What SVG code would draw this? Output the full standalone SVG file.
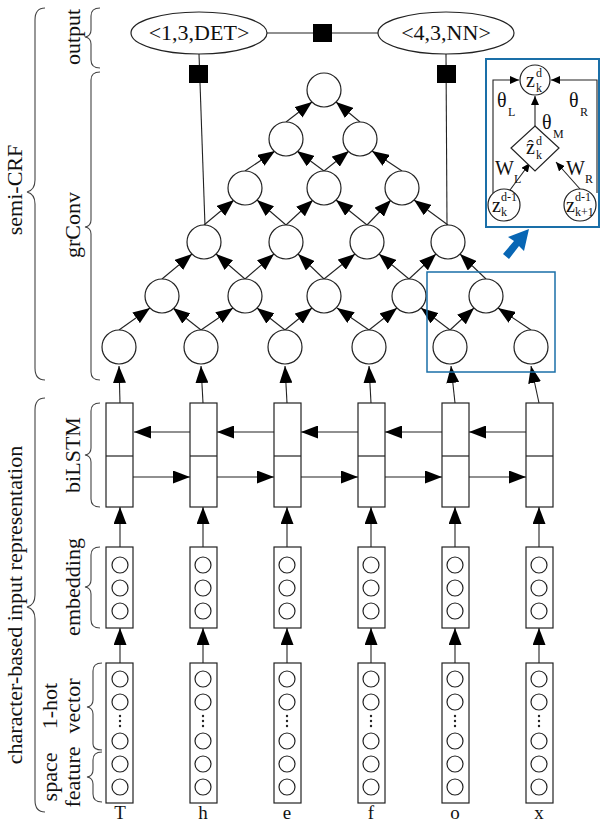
<svg xmlns="http://www.w3.org/2000/svg" width="605" height="825" viewBox="0 0 605 825">
<defs>
<marker id="a" viewBox="0 0 10 10" refX="10" refY="5" markerWidth="9" markerHeight="8" markerUnits="userSpaceOnUse" orient="auto" preserveAspectRatio="none"><path d="M0,0L10,5L0,10z" fill="#000"/></marker>
<marker id="b" viewBox="0 0 10 10" refX="10" refY="5" markerWidth="17" markerHeight="13" markerUnits="userSpaceOnUse" orient="auto" preserveAspectRatio="none"><path d="M0,0L10,5L0,10z" fill="#000"/></marker>
</defs>
<style>
.n{fill:#fff;stroke:#222;stroke-width:1.2}
.l{stroke:#222;stroke-width:1.1;fill:none}
.br{stroke:#444;stroke-width:1.1;fill:none}
text{font-family:"Liberation Serif",serif;fill:#111}
.t{font-size:22px}
.z{font-size:20px}
.s{font-size:12px}
</style>
<g id="labels" class="t">
<text transform="translate(22,190) rotate(-90)" text-anchor="middle">semi-CRF</text>
<text transform="translate(22,605) rotate(-90)" text-anchor="middle">character-based input representation</text>
<text transform="translate(80,37) rotate(-90)" text-anchor="middle">output</text>
<text transform="translate(80,225) rotate(-90)" text-anchor="middle">grConv</text>
<text transform="translate(80,455) rotate(-90)" text-anchor="middle">biLSTM</text>
<text transform="translate(80,587) rotate(-90)" text-anchor="middle">embedding</text>
<text transform="translate(57,706) rotate(-90)" text-anchor="middle">1-hot</text>
<text transform="translate(80,706) rotate(-90)" text-anchor="middle">vector</text>
<text transform="translate(57,777) rotate(-90)" text-anchor="middle">space</text>
<text transform="translate(80,777) rotate(-90)" text-anchor="middle">feature</text>
</g>
<g id="braces">
<path class="br" d="M45,8 Q35,8 35,20 L35,180 Q35,190 27,192 Q35,194 35,204 L35,368 Q35,380 45,380"/>
<path class="br" d="M45,398 Q35,398 35,410 L35,595 Q35,605 27,607 Q35,609 35,619 L35,800 Q35,812 45,812"/>
<path class="br" d="M100,8 Q91,8 91,16 L91,30 Q91,36 85,37 Q91,38 91,44 L91,60 Q91,68 100,68"/>
<path class="br" d="M100,72 Q91,72 91,80 L91,220 Q91,226 85,227 Q91,228 91,234 L91,372 Q91,380 100,380"/>
<path class="br" d="M100,403 Q91,403 91,411 L91,448 Q91,454 85,455 Q91,456 91,462 L91,499 Q91,507 100,507"/>
<path class="br" d="M100,547 Q91,547 91,555 L91,580 Q91,586 85,587 Q91,588 91,594 L91,620 Q91,628 100,628"/>
<path class="br" d="M102,663 Q93,663 93,671 L93,700 Q93,706 87,707 Q93,708 93,714 L93,744 Q93,750 102,750"/>
<path class="br" d="M102,752 Q93,752 93,760 L93,770 Q93,776 87,777 Q93,778 93,784 L93,794 Q93,802 102,802"/>
</g>
<g id="connectors">
<line class="l" x1="267" y1="33" x2="380" y2="33"/>
<line class="l" x1="199" y1="54" x2="205" y2="226"/>
<line class="l" x1="446" y1="54" x2="447" y2="226"/>
<g marker-end="url(#b)">
<line class="l" x1="119" y1="330" x2="150" y2="308"/><line class="l" x1="201" y1="330" x2="173" y2="308"/>
<line class="l" x1="201" y1="330" x2="233" y2="308"/><line class="l" x1="285" y1="330" x2="257" y2="308"/>
<line class="l" x1="285" y1="330" x2="312" y2="308"/><line class="l" x1="369" y1="330" x2="337" y2="308"/>
<line class="l" x1="369" y1="330" x2="397" y2="308"/><line class="l" x1="450" y1="330" x2="421" y2="308"/>
<line class="l" x1="450" y1="330" x2="474" y2="308"/><line class="l" x1="531" y1="330" x2="498" y2="308"/>
<line class="l" x1="162" y1="279" x2="192" y2="254"/><line class="l" x1="245" y1="279" x2="216" y2="254"/>
<line class="l" x1="245" y1="279" x2="274" y2="254"/><line class="l" x1="324" y1="279" x2="298" y2="254"/>
<line class="l" x1="324" y1="279" x2="355" y2="254"/><line class="l" x1="409" y1="279" x2="379" y2="254"/>
<line class="l" x1="409" y1="279" x2="436" y2="254"/><line class="l" x1="486" y1="279" x2="460" y2="254"/>
<line class="l" x1="204" y1="225" x2="234" y2="200"/><line class="l" x1="286" y1="225" x2="257" y2="200"/>
<line class="l" x1="286" y1="225" x2="313" y2="200"/><line class="l" x1="367" y1="225" x2="336" y2="200"/>
<line class="l" x1="367" y1="225" x2="391" y2="200"/><line class="l" x1="448" y1="225" x2="414" y2="200"/>
<line class="l" x1="245" y1="171" x2="275" y2="151"/><line class="l" x1="324" y1="171" x2="297" y2="151"/>
<line class="l" x1="324" y1="171" x2="349" y2="151"/><line class="l" x1="402" y1="171" x2="372" y2="151"/>
<line class="l" x1="286" y1="122" x2="312" y2="102"/><line class="l" x1="360" y1="122" x2="336" y2="102"/>
</g>
<g marker-end="url(#b)">
<line class="l" x1="120" y1="403" x2="119" y2="366"/><line class="l" x1="203" y1="403" x2="201" y2="366"/>
<line class="l" x1="287" y1="403" x2="285" y2="366"/><line class="l" x1="371" y1="403" x2="369" y2="366"/>
<line class="l" x1="455" y1="403" x2="451" y2="366"/><line class="l" x1="539" y1="403" x2="531" y2="366"/>
<line class="l" x1="120" y1="547" x2="120" y2="507"/><line class="l" x1="203" y1="547" x2="203" y2="507"/>
<line class="l" x1="287" y1="547" x2="287" y2="507"/><line class="l" x1="371" y1="547" x2="371" y2="507"/>
<line class="l" x1="455" y1="547" x2="455" y2="507"/><line class="l" x1="539" y1="547" x2="539" y2="507"/>
<line class="l" x1="120" y1="663" x2="120" y2="628"/><line class="l" x1="203" y1="663" x2="203" y2="628"/>
<line class="l" x1="287" y1="663" x2="287" y2="628"/><line class="l" x1="371" y1="663" x2="371" y2="628"/>
<line class="l" x1="455" y1="663" x2="455" y2="628"/><line class="l" x1="539" y1="663" x2="539" y2="628"/>
<line class="l" x1="190" y1="432" x2="134" y2="432"/><line class="l" x1="274" y1="432" x2="217" y2="432"/>
<line class="l" x1="358" y1="432" x2="301" y2="432"/><line class="l" x1="442" y1="432" x2="385" y2="432"/>
<line class="l" x1="526" y1="432" x2="469" y2="432"/>
<line class="l" x1="133" y1="477" x2="190" y2="477"/><line class="l" x1="216" y1="477" x2="274" y2="477"/>
<line class="l" x1="300" y1="477" x2="358" y2="477"/><line class="l" x1="384" y1="477" x2="442" y2="477"/>
<line class="l" x1="468" y1="477" x2="526" y2="477"/>
</g>
</g>
<g id="output">
<ellipse class="n" cx="199" cy="33" rx="68" ry="21"/><text class="t" x="199" y="40" text-anchor="middle">&lt;1,3,DET&gt;</text>
<ellipse class="n" cx="446" cy="33" rx="68" ry="21"/><text class="t" x="446" y="40" text-anchor="middle">&lt;4,3,NN&gt;</text>
<rect x="313" y="24" width="19" height="18" fill="#000"/>
<rect x="189" y="65" width="19" height="18" fill="#000"/>
<rect x="437" y="65" width="19" height="18" fill="#000"/>
</g>
<g id="grconv" class="n">
<circle cx="119" cy="347" r="17"/><circle cx="201" cy="347" r="17"/><circle cx="285" cy="347" r="17"/><circle cx="369" cy="347" r="17"/><circle cx="450" cy="347" r="17"/><circle cx="531" cy="347" r="17"/>
<circle cx="162" cy="296" r="17"/><circle cx="245" cy="296" r="17"/><circle cx="324" cy="296" r="17"/><circle cx="409" cy="296" r="17"/><circle cx="486" cy="296" r="17"/>
<circle cx="204" cy="242" r="17"/><circle cx="286" cy="242" r="17"/><circle cx="367" cy="242" r="17"/><circle cx="448" cy="242" r="17"/>
<circle cx="245" cy="188" r="17"/><circle cx="324" cy="188" r="17"/><circle cx="402" cy="188" r="17"/>
<circle cx="286" cy="139" r="17"/><circle cx="360" cy="139" r="17"/>
<circle cx="324" cy="90" r="17"/>
</g>
<g id="highlight">
<rect x="427" y="272" width="128" height="100" fill="none" stroke="#1a6fa8" stroke-width="1.5"/>
<path d="M503,254 L514,241 L508,237 L529,229 L524,251 L519,246 L509,259 Z" fill="#0866b4"/>
</g>
<g id="inset">
<rect x="486" y="59" width="113" height="168" fill="#fff" stroke="#1a6fa8" stroke-width="2"/>
<g marker-end="url(#a)">
<path class="l" d="M493,193 L493,80 L519,80"/>
<path class="l" d="M597,193 L597,80 L551,80"/>
<line class="l" x1="535" y1="126" x2="535" y2="96"/>
<line class="l" x1="510" y1="190" x2="530" y2="163"/>
<line class="l" x1="580" y1="189" x2="556" y2="162"/>
</g>
<circle class="n" cx="535" cy="80" r="15"/>
<text class="z" x="526" y="87">z</text><text class="s" x="536" y="77">d</text><text class="s" x="536" y="92">k</text>
<path class="n" d="M535,126 L559,148 L535,171 L511,148 Z"/>
<text class="z" x="526" y="154">ẑ</text><text class="s" x="536" y="145">d</text><text class="s" x="536" y="159">k</text>
<circle class="n" cx="504" cy="205" r="16"/>
<text class="z" x="492" y="212">z</text><text class="s" x="501" y="201">d-1</text><text class="s" x="501" y="216">k</text>
<circle class="n" cx="580" cy="205" r="16"/>
<text class="z" x="566" y="212">z</text><text class="s" x="575" y="201">d-1</text><text class="s" x="575" y="216">k+1</text>
<text class="z" x="497" y="107">θ</text><text class="s" x="508" y="116">L</text>
<text class="z" x="569" y="107">θ</text><text class="s" x="580" y="116">R</text>
<text class="z" x="542" y="129">θ</text><text class="s" x="553" y="138">M</text>
<text class="z" x="495" y="175">W</text><text class="s" x="514" y="183">L</text>
<text class="z" x="566" y="175">W</text><text class="s" x="585" y="183">R</text>
</g>
<g id="bilstm" class="n">
<rect x="106" y="403" width="27" height="104"/><line x1="106" y1="456" x2="133" y2="456"/>
<rect x="190" y="403" width="27" height="104"/><line x1="190" y1="456" x2="217" y2="456"/>
<rect x="274" y="403" width="27" height="104"/><line x1="274" y1="456" x2="301" y2="456"/>
<rect x="358" y="403" width="27" height="104"/><line x1="358" y1="456" x2="385" y2="456"/>
<rect x="442" y="403" width="27" height="104"/><line x1="442" y1="456" x2="469" y2="456"/>
<rect x="526" y="403" width="27" height="104"/><line x1="526" y1="456" x2="553" y2="456"/>
</g>
<g id="embedding" class="n">
<rect x="106" y="547" width="27" height="81"/><circle cx="120" cy="565" r="8"/><circle cx="120" cy="588" r="8"/><circle cx="120" cy="611" r="8"/>
<rect x="190" y="547" width="27" height="81"/><circle cx="203" cy="565" r="8"/><circle cx="203" cy="588" r="8"/><circle cx="203" cy="611" r="8"/>
<rect x="274" y="547" width="27" height="81"/><circle cx="287" cy="565" r="8"/><circle cx="287" cy="588" r="8"/><circle cx="287" cy="611" r="8"/>
<rect x="358" y="547" width="27" height="81"/><circle cx="371" cy="565" r="8"/><circle cx="371" cy="588" r="8"/><circle cx="371" cy="611" r="8"/>
<rect x="442" y="547" width="27" height="81"/><circle cx="455" cy="565" r="8"/><circle cx="455" cy="588" r="8"/><circle cx="455" cy="611" r="8"/>
<rect x="526" y="547" width="27" height="81"/><circle cx="539" cy="565" r="8"/><circle cx="539" cy="588" r="8"/><circle cx="539" cy="611" r="8"/>
</g>
<g id="input">
<g class="n">
<rect x="106" y="663" width="27" height="140"/><rect x="190" y="663" width="27" height="140"/><rect x="274" y="663" width="27" height="140"/><rect x="358" y="663" width="27" height="140"/><rect x="442" y="663" width="27" height="140"/><rect x="526" y="663" width="27" height="140"/>
</g>
<g class="n">
<circle cx="120" cy="679" r="8"/><circle cx="120" cy="702" r="8"/><circle cx="120" cy="741" r="8"/><circle cx="120" cy="764" r="8"/><circle cx="120" cy="787" r="8"/>
<circle cx="203" cy="679" r="8"/><circle cx="203" cy="702" r="8"/><circle cx="203" cy="741" r="8"/><circle cx="203" cy="764" r="8"/><circle cx="203" cy="787" r="8"/>
<circle cx="287" cy="679" r="8"/><circle cx="287" cy="702" r="8"/><circle cx="287" cy="741" r="8"/><circle cx="287" cy="764" r="8"/><circle cx="287" cy="787" r="8"/>
<circle cx="371" cy="679" r="8"/><circle cx="371" cy="702" r="8"/><circle cx="371" cy="741" r="8"/><circle cx="371" cy="764" r="8"/><circle cx="371" cy="787" r="8"/>
<circle cx="455" cy="679" r="8"/><circle cx="455" cy="702" r="8"/><circle cx="455" cy="741" r="8"/><circle cx="455" cy="764" r="8"/><circle cx="455" cy="787" r="8"/>
<circle cx="539" cy="679" r="8"/><circle cx="539" cy="702" r="8"/><circle cx="539" cy="741" r="8"/><circle cx="539" cy="764" r="8"/><circle cx="539" cy="787" r="8"/>
</g>
<g fill="#222">
<circle cx="120" cy="716" r="1.2"/><circle cx="120" cy="721" r="1.2"/><circle cx="120" cy="726" r="1.2"/>
<circle cx="203" cy="716" r="1.2"/><circle cx="203" cy="721" r="1.2"/><circle cx="203" cy="726" r="1.2"/>
<circle cx="287" cy="716" r="1.2"/><circle cx="287" cy="721" r="1.2"/><circle cx="287" cy="726" r="1.2"/>
<circle cx="371" cy="716" r="1.2"/><circle cx="371" cy="721" r="1.2"/><circle cx="371" cy="726" r="1.2"/>
<circle cx="455" cy="716" r="1.2"/><circle cx="455" cy="721" r="1.2"/><circle cx="455" cy="726" r="1.2"/>
<circle cx="539" cy="716" r="1.2"/><circle cx="539" cy="721" r="1.2"/><circle cx="539" cy="726" r="1.2"/>
</g>
<g text-anchor="middle" font-size="19">
<text x="120" y="819">T</text><text x="203" y="819">h</text><text x="287" y="819">e</text><text x="371" y="819">f</text><text x="455" y="819">o</text><text x="539" y="819">x</text>
</g>
</g>
</svg>
